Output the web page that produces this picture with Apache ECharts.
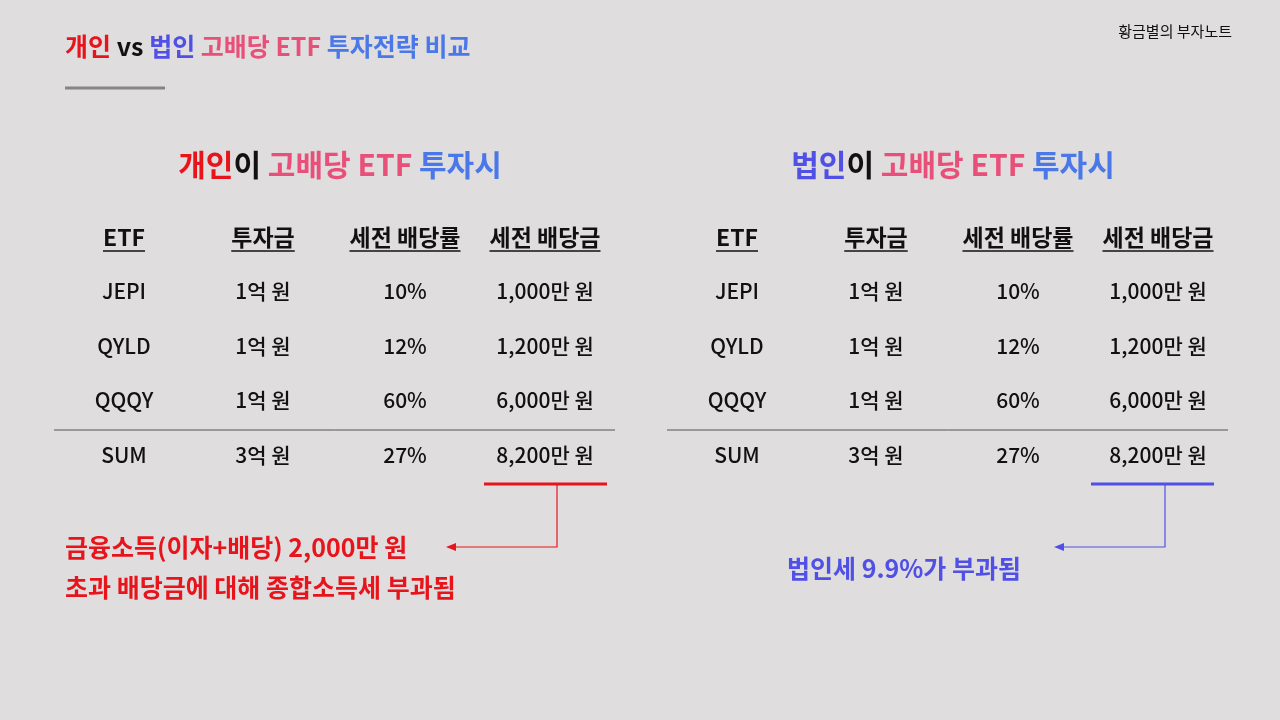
<!DOCTYPE html>
<html><head><meta charset="utf-8">
<script src="https://cdn.jsdelivr.net/npm/echarts@6/dist/echarts.min.js"></script>
<style>html,body{margin:0;background:#dfdddd}#c{width:1280px;height:720px}</style>
</head><body><div id="c"></div>
<script>
// 표 데이터
const headers = ['ETF', '투자금', '세전 배당률', '세전 배당금'];
const etfs = ['JEPI', 'QYLD', 'QQQY', 'SUM'];
const amounts = ['1억 원', '1억 원', '1억 원', '3억 원'];
const rates = ['10%', '12%', '60%', '27%'];
const dividends = ['1,000만 원', '1,200만 원', '6,000만 원', '8,200만 원'];

const FONT = '"Noto Sans CJK KR", sans-serif';
const RED = '#e8141c', PINK = '#e8507a', BLUE = '#4a78e8', PURPLE = '#5050e6';
const chart = echarts.init(document.getElementById('c'));
const ctx = document.createElement('canvas').getContext('2d');
function textW(s, size, weight) { ctx.font = weight + ' ' + size + 'px ' + FONT; return ctx.measureText(s).width; }

const g = [];
function txt(x, y, parts, size, align) {
  const r = {};
  [['r', RED], ['p', PINK], ['b', BLUE], ['v', PURPLE], ['k', '#111']].forEach(c => {
    r[c[0]] = { fill: c[1], fontSize: size, fontFamily: FONT, fontWeight: 'bold' };
  });
  g.push({ type: 'text', x: x, y: y, style: {
    text: parts.map(p => '{' + p[0] + '|' + p[1] + '}').join(''),
    rich: r, fontSize: size, fontFamily: FONT, fontWeight: 'bold',
    align: align || 'left', verticalAlign: 'middle' } });
}
function line(x1, y1, x2, y2, color, w) {
  g.push({ type: 'line', shape: { x1, y1, x2, y2 }, style: { stroke: color, lineWidth: w } });
}

// 제목
txt(65, 46, [['r', '개인'], ['k', ' vs '], ['v', '법인'], ['p', ' 고배당 ETF'], ['b', ' 투자전략 비교']], 25);
line(65, 88, 165, 88, '#858585', 3);
g.push({ type: 'text', x: 1232, y: 31, style: { text: '황금별의 부자노트', fontSize: 15, fontFamily: FONT, fill: '#111', align: 'right', verticalAlign: 'middle' } });

function table(dx, who, whoKey) {
  const cx = [124, 263, 405, 545].map(v => v + dx);
  txt(340 + dx, 165, [[whoKey, who], ['k', '이 '], ['p', '고배당 ETF'], ['b', ' 투자시']], 30, 'center');
  headers.forEach((h, i) => {
    g.push({ type: 'text', x: cx[i], y: 237, style: { text: h, fontSize: 23, fontWeight: 'bold', fontFamily: FONT, fill: '#111', align: 'center', verticalAlign: 'middle' } });
    const w = textW(h, 23, 'bold');
    line(cx[i] - w / 2, 251, cx[i] + w / 2, 251, '#111', 1.5);
  });
  const cols = [etfs, amounts, rates, dividends];
  etfs.forEach((_, r) => {
    cols.forEach((col, i) => {
      g.push({ type: 'text', x: cx[i], y: 291 + r * 54.7, style: { text: col[r], fontSize: 21, fontWeight: 500, fontFamily: FONT, fill: '#111', align: 'center', verticalAlign: 'middle' } });
    });
  });
  line(54 + dx, 430, 615 + dx, 430, '#555', 1);
}
table(0, '개인', 'r');
table(613, '법인', 'v');

// 주석 화살표
line(484, 484, 607, 484, RED, 3);
g.push({ type: 'polyline', shape: { points: [[557, 484], [557, 547], [452, 547]] }, style: { stroke: RED, lineWidth: 1.2, fill: null } });
g.push({ type: 'polygon', shape: { points: [[446, 547], [456, 543], [456, 551]] }, style: { fill: RED } });
txt(65, 547, [['r', '금융소득(이자+배당) 2,000만 원']], 25);
txt(65, 587, [['r', '초과 배당금에 대해 종합소득세 부과됨']], 25);

line(1091, 484, 1214, 484, PURPLE, 3);
g.push({ type: 'polyline', shape: { points: [[1165, 484], [1165, 547], [1060, 547]] }, style: { stroke: PURPLE, lineWidth: 1.2, fill: null } });
g.push({ type: 'polygon', shape: { points: [[1054, 547], [1064, 543], [1064, 551]] }, style: { fill: PURPLE } });
txt(904, 568, [['v', '법인세 9.9%가 부과됨']], 25, 'center');

chart.setOption({ backgroundColor: '#dfdddd', graphic: g });
</script></body></html>
